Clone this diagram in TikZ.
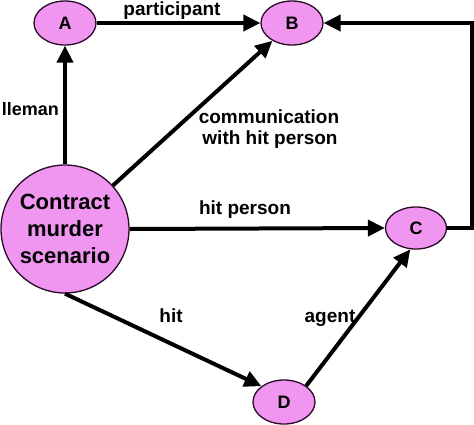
\documentclass[tikz,border=0pt]{standalone}
\usepackage{fontspec}
\setmainfont{Liberation Sans}
\usetikzlibrary{shapes.geometric,arrows.meta}
\definecolor{nodepink}{RGB}{240,150,240}
\definecolor{nodeline}{RGB}{40,10,40}
\begin{document}
\begin{tikzpicture}[x=1pt,y=-1pt,
  ell/.style={ellipse,draw=nodeline,line width=1.3pt,fill=nodepink,minimum width=62pt,minimum height=44pt,inner sep=0pt,font=\fontsize{18}{20}\selectfont\bfseries},
  big/.style={circle,draw=nodeline,line width=1.3pt,fill=nodepink,minimum size=128pt,inner sep=0pt,align=center,font=\fontsize{22}{27}\selectfont\bfseries},
  conn/.style={line width=4pt,-{Triangle[length=17pt,width=16pt]}},
  lab/.style={anchor=base,inner sep=0pt,font=\fontsize{19}{21}\selectfont\bfseries,align=center}]
\useasboundingbox (0,0) rectangle (474,424);
\clip (0,0) rectangle (474,424);
\node[big] (S) at (65,229) {Contract\\murder\\scenario};
\node[ell] (A) at (65,23) {A};
\node[ell] (B) at (292,23) {B};
\node[ell,minimum width=61pt,minimum height=42pt] (C) at (416,228) {C};
\node[ell] (D) at (284,402) {D};
\draw[conn] (S.north) -- (A.south);
\draw[conn] (A.east) -- (B.west);
\draw[conn] (S) -- (B);
\draw[conn] (S.east) -- (C.west);
\draw[conn] (C.east) -- ++(25,0) |- (B.east);
\draw[conn] (S.south) -- (D.145);
\draw[conn] (D.36) -- (C.255);
\node[lab] (lp) at (172,15) {participant};
\node[lab,anchor=base east,font=\fontsize{18}{20}\selectfont\bfseries] (lm) at (59,115) {lleman};
\node[lab] (lc) at (269,123) {communication};
\node[lab] (lw) at (270,144) {with hit person};
\node[lab] (lh) at (245,214) {hit person};
\node[lab] (lt) at (171,322) {hit};
\node[lab] (la) at (330,322) {agent};
\end{tikzpicture}
\end{document}
